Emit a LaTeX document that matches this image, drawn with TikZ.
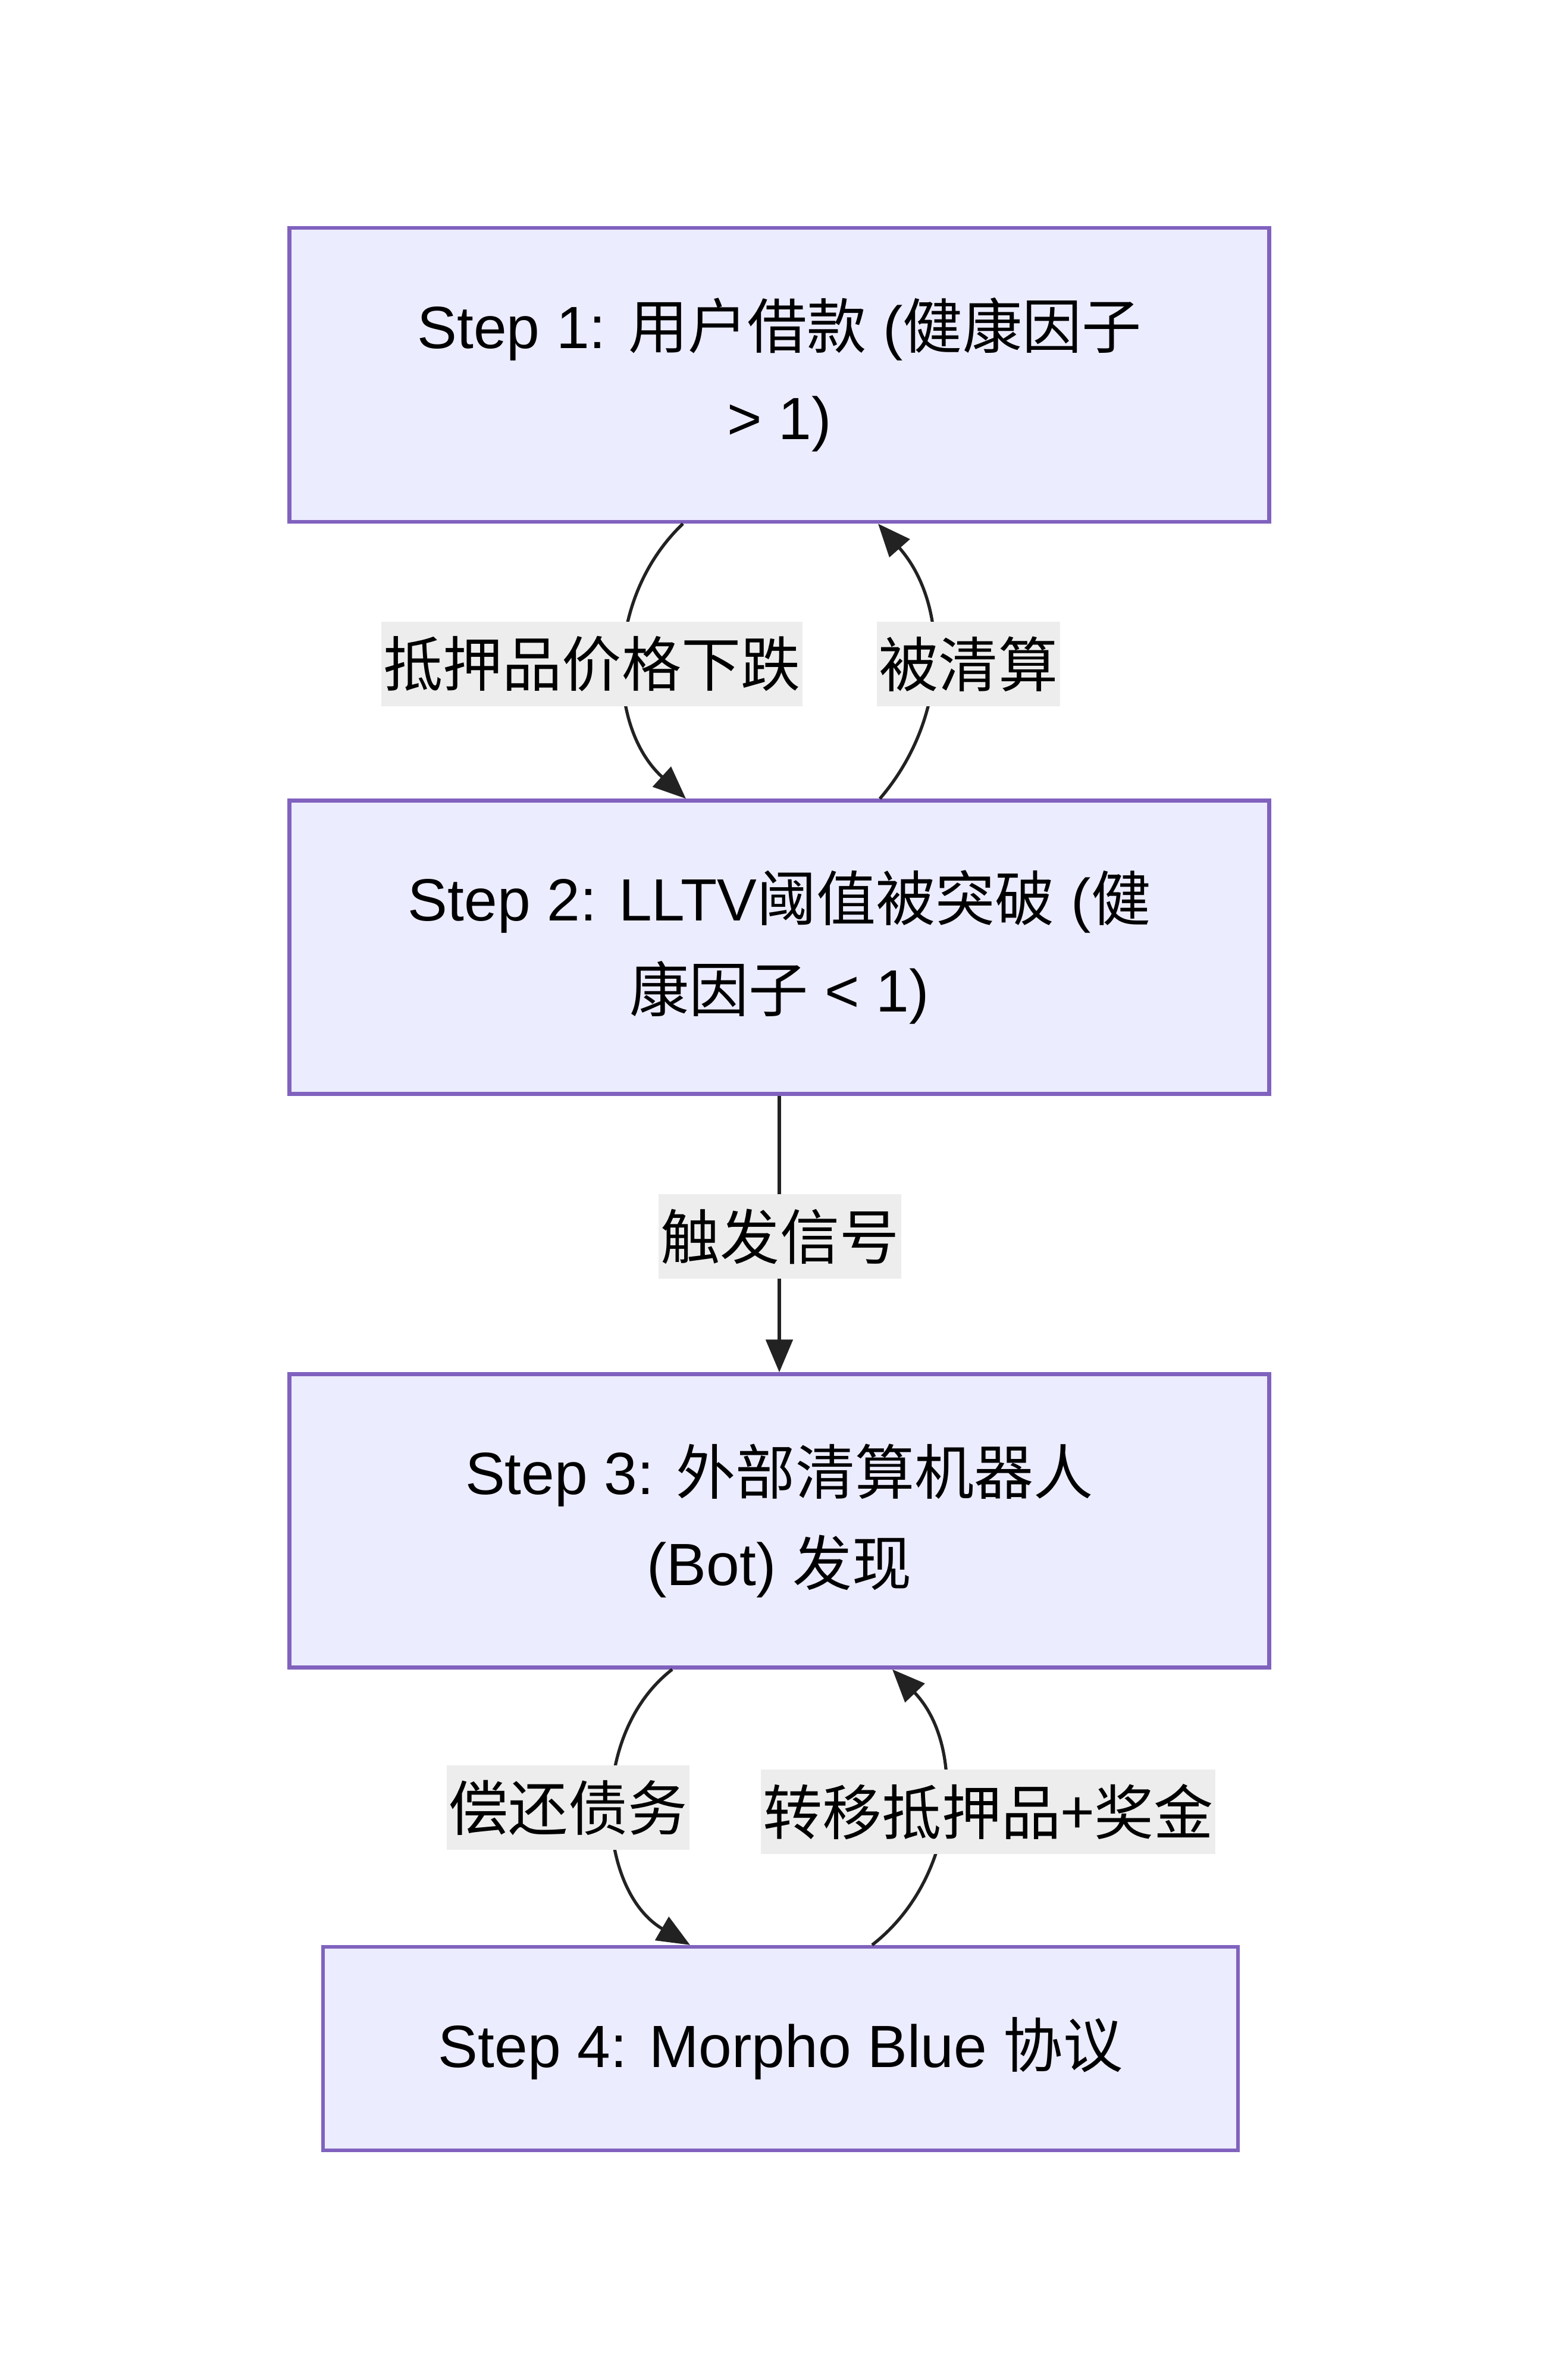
\documentclass[tikz,border=0pt]{standalone}
\usepackage{fontspec}
\setmainfont{Liberation Sans}
\newfontfamily\cjk{Noto Sans CJK SC}
\newcommand{\zh}[1]{{\cjk #1}}
\usetikzlibrary{arrows.meta}
\definecolor{boxfill}{HTML}{ECECFF}
\definecolor{boxline}{HTML}{8062BE}
\definecolor{labelfill}{HTML}{EDEDED}
\definecolor{edgecol}{HTML}{222222}

\begin{document}
\begin{tikzpicture}[
    line width=1.5pt,
    >={Triangle[length=5.5mm,width=4.5mm]},
    stepbox/.style={draw=boxline, fill=boxfill, line width=1.8pt, align=center, font=\fontsize{28.5}{43.5}\selectfont},
    rotulo/.style={fill=labelfill, inner xsep=1pt, inner ysep=0pt, minimum height=1.42cm, font=\fontsize{28.5}{43.5}\selectfont},
    seta/.style={->, draw=edgecol},
  ]
  \useasboundingbox (0,0) rectangle (26.24,-40);

  % Caixas
  \node[stepbox, minimum width=16.47cm, minimum height=4.94cm] (s1) at (13.10,-6.30)
    {Step 1: \zh{用户借款} (\zh{健康因子}\\> 1)};
  \node[stepbox, minimum width=16.47cm, minimum height=4.93cm] (s2) at (13.10,-15.92)
    {Step 2: LLTV\zh{阈值被突破} (\zh{健}\\\zh{康因子} < 1)};
  \node[stepbox, minimum width=16.47cm, minimum height=4.93cm] (s3) at (13.10,-25.56)
    {Step 3: \zh{外部清算机器人}\\(Bot) \zh{发现}};
  \node[stepbox, minimum width=15.38cm, minimum height=3.42cm] (s4) at (13.12,-34.43)
    {Step 4: Morpho Blue \zh{协议}};

  % Setas
  \draw[seta] ([xshift=-1.62cm]s1.south) to[bend right=47] ([xshift=-1.57cm]s2.north);
  \draw[seta] ([xshift=1.69cm]s2.north) to[bend right=41] ([xshift=1.66cm]s1.south);
  \draw[seta] (s2.south) -- (s3.north);
  \draw[seta] ([xshift=-1.80cm]s3.south) to[bend right=56] ([xshift=-1.52cm]s4.north);
  \draw[seta] ([xshift=1.54cm]s4.north) to[bend right=48] ([xshift=1.90cm]s3.south);

  % Rotulos
  \node[rotulo] (queda) at (9.95,-11.16) {\zh{抵押品价格下跌}};
  \node[rotulo] (liq) at (16.28,-11.16) {\zh{被清算}};
  \node[rotulo] (sinal) at (13.11,-20.78) {\zh{触发信号}};
  \node[rotulo] (divida) at (9.55,-30.38) {\zh{偿还债务}};
  \node[rotulo] (premio) at (16.61,-30.45) {\zh{转移抵押品+奖金}};
\end{tikzpicture}
\end{document}
